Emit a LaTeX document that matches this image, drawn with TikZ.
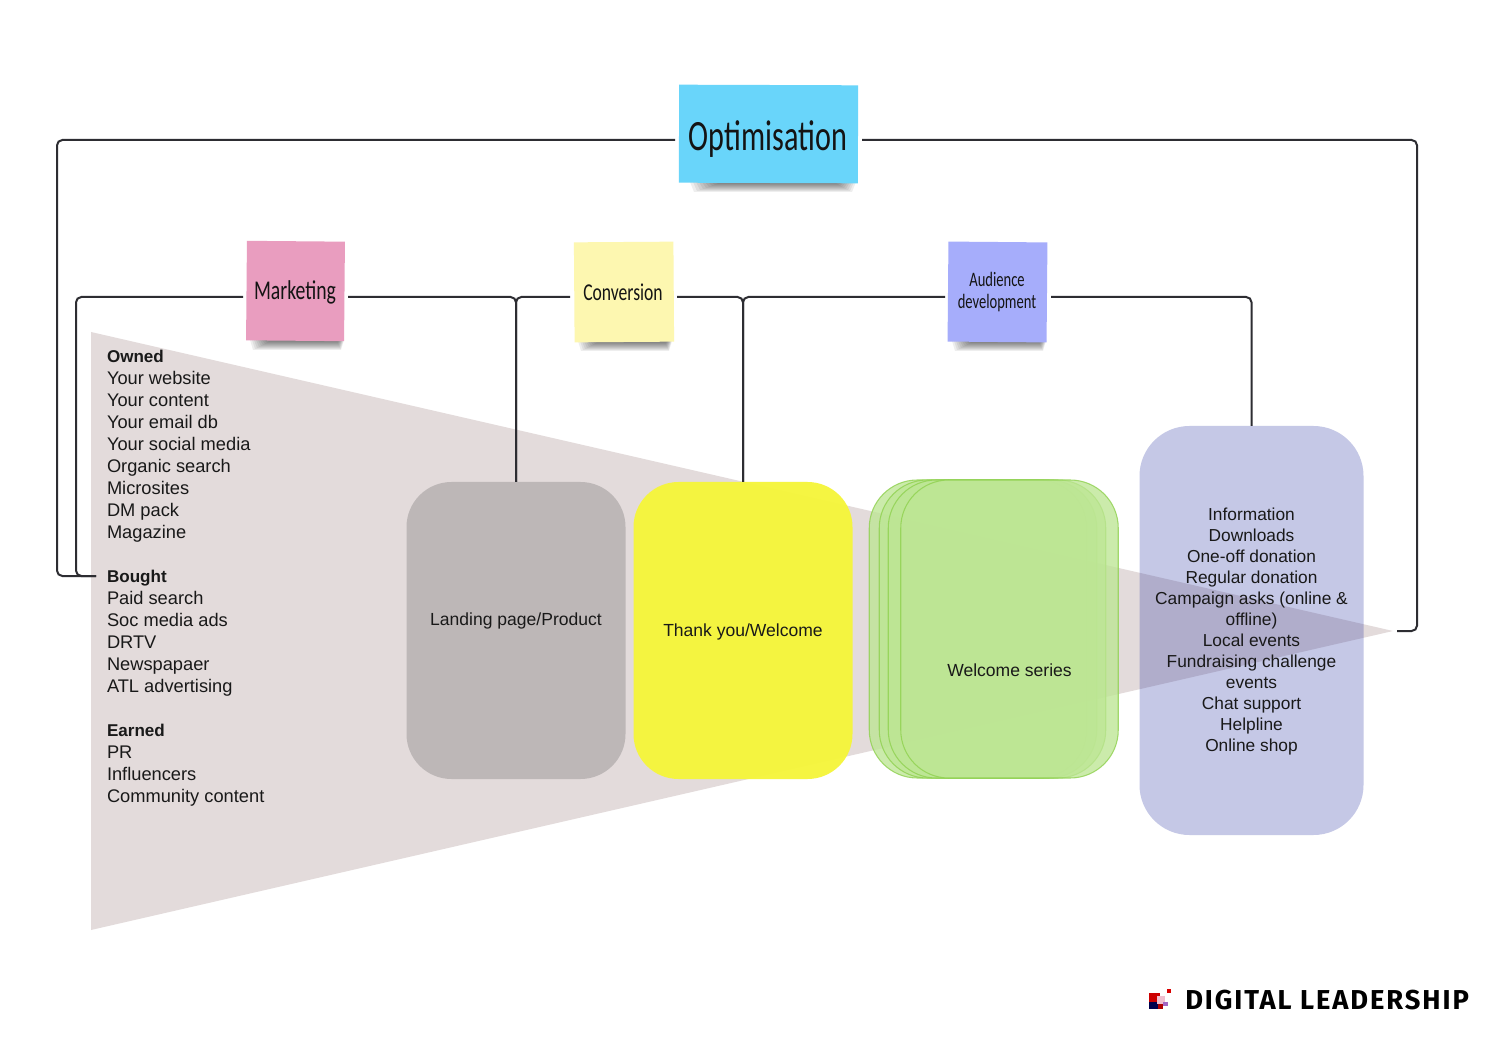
\documentclass[tikz,border=0pt]{standalone}
\usepackage{fontspec}
\setmainfont{Liberation Sans}
\newfontfamily\handfont{Carlito}
\newfontfamily\logofont[LetterSpace=7]{Fira Sans}
\usetikzlibrary{calc}
\definecolor{funnelc}{RGB}{227,219,219}
\definecolor{grayc}{RGB}{189,183,183}
\definecolor{yellowc}{RGB}{245,245,60}
\definecolor{greenf}{RGB}{189,230,148}
\definecolor{greenl}{RGB}{143,209,79}
\definecolor{purplef}{RGB}{24,36,156}
\definecolor{linec}{RGB}{45,45,50}
\definecolor{optc}{RGB}{105,213,250}
\definecolor{mktc}{RGB}{233,157,191}
\definecolor{convc}{RGB}{253,247,176}
\definecolor{audc}{RGB}{166,173,251}
\tikzset{
  x=0.75pt,y=-0.75pt,
  conn/.style={draw=linec,line width=1.5pt,rounded corners=4pt},
  txt/.style={inner sep=0pt,outer sep=0pt,font=\fontsize{13.15}{15.75}\selectfont,text=black!90},
  panel/.style={inner sep=0pt,outer sep=0pt,rounded corners=#1*0.75pt},
  greenlayer/.style={panel=48,fill=greenf,fill opacity=.78,draw=greenl,draw opacity=.8,line width=.8pt,minimum width=217.5pt*.75,minimum height=298pt*.75},
  sticky/.style={inner sep=0pt,outer sep=0pt,align=center,text=black!92,font=\handfont},
  shadowbit/.style={fill=black,opacity=.065,draw=none}
}
\begin{document}
\begin{tikzpicture}
\useasboundingbox (0,0) rectangle (1500,1055);
\fill[white] (0,0) rectangle (1500,1055);
% funnel
\fill[funnelc] (91,332) -- (1393,631) -- (91,930) -- cycle;
% free ends of connectors
\coordinate (optL) at (675,140);
\coordinate (optR) at (862,140);
\coordinate (mkL) at (243,297);
\coordinate (mkR) at (348,297);
\coordinate (cvL) at (570,297);
\coordinate (cvR) at (677,297);
\coordinate (auL) at (945,297);
\coordinate (auR) at (1051,297);
\coordinate (boughtA) at (96,576);
\coordinate (funnelTip) at (1397,631);
% panels placed first so connectors can name them
\node[panel=45,fill=grayc,minimum width=219pt*.75,minimum height=297pt*.75] (lp) at (516,630.5) {};
\node[panel=45,fill=yellowc,fill opacity=.97,minimum width=219pt*.75,minimum height=297pt*.75] (ty) at (743,630.5) {};
\node[greenlayer] (g1) at (978,629) {};
\node[greenlayer] (g2) at (988,629) {};
\node[greenlayer] (g3) at (997,629) {};
\node[greenlayer] (g4) at (1009.5,629) {};
\node[panel=50,fill=purplef,fill opacity=.25,minimum width=224pt*.75,minimum height=409pt*.75] (pb) at (1251.5,630.5) {};
% connectors
\draw[conn] (optL) -- (57,140) -- (57,576) -- (boughtA);
\draw[conn] (optR) -- (1417,140) -- (1417,631) -- (funnelTip);
\draw[conn] (mkL) -- (76,297) -- (76,576) -- (boughtA);
\draw[conn] (mkR) -| (lp.north);
\draw[conn] (cvL) -| (lp.north);
\draw[conn] (cvR) -| (ty.north);
\draw[conn] (auL) -| (ty.north);
\draw[conn] (auR) -| (pb.north);
% shadows
\foreach \i in {0,1,...,8}{
  \fill[shadowbit] (690+\i*3,182) -- (856-\i*2,182) -- (852-\i*2,183+9-\i) -- (694+\i*3,183+9-\i) -- cycle;
  \fill[shadowbit] (250+\i*2,340) -- (344-\i*.5,340) -- (341-\i*.5,341+9-\i) -- (253+\i*2,341+9-\i) -- cycle;
  \fill[shadowbit] (578+\i*2,341) -- (672-\i*.5,341) -- (669-\i*.5,342+9-\i) -- (581+\i*2,342+9-\i) -- cycle;
  \fill[shadowbit] (952+\i*2,341) -- (1046-\i*.5,341) -- (1043-\i*.5,342+9-\i) -- (955+\i*2,342+9-\i) -- cycle;
}
% sticky notes
\node[sticky,fill=optc,rotate=-0.2,minimum width=179pt*.75,minimum height=98pt*.75] (opt) at (768.5,134) {};
\node[sticky,fill=mktc,rotate=-0.5,minimum width=98pt*.75,minimum height=99.5pt*.75] (mk) at (295.5,291) {};
\node[sticky,fill=convc,rotate=0.4,minimum width=99.5pt*.75,minimum height=100pt*.75] (cv) at (624,292) {};
\node[sticky,fill=audc,rotate=-0.5,minimum width=99pt*.75,minimum height=100pt*.75] (au) at (997.5,292) {};
\node[sticky,font=\handfont\fontsize{30}{30}\selectfont] (optT) at (768,139) {\scalebox{.755}[1.08]{Optimisation}};
\node[sticky,font=\handfont\fontsize{18.5}{18.5}\selectfont] (mkT) at (295,292) {\scalebox{.80}[1.1]{Marketing}};
\node[sticky,font=\handfont\fontsize{16.5}{16.5}\selectfont] (cvT) at (623,292) {\scalebox{.80}[1.1]{Conversion}};
\node[sticky,font=\handfont\fontsize{14}{17}\selectfont] (auT) at (997,292) {\scalebox{.78}[1.1]{Audience}\\\scalebox{.78}[1.1]{development}};
% texts
\node[txt,anchor=north west,align=left,font=\fontsize{13.7}{16.5}\selectfont] (left) at (107,350.5) {%
\textbf{\fontsize{12.8}{16.5}\selectfont Owned}\\Your website\\Your content\\Your email db\\Your social media\\Organic search\\Microsites\\DM pack\\Magazine\\[16.5pt]%
\textbf{\fontsize{12.8}{16.5}\selectfont Bought}\\Paid search\\Soc media ads\\DRTV\\Newspapaer\\ATL advertising\\[16.5pt]%
\textbf{\fontsize{12.8}{16.5}\selectfont Earned}\\PR\\Influencers\\Community content};
\node[txt] (lpT) at (516,621) {Landing page/Product};
\node[txt] (tyT) at (743,632) {Thank you/Welcome};
\node[txt] (wsT) at (1009.5,670.5) {Welcome series};
\node[txt,align=center,font=\fontsize{13}{15.75}\selectfont] (pbT) at (1251.5,632) {Information\\Downloads\\One-off donation\\Regular donation\\Campaign asks (online \&\\offline)\\Local events\\Fundraising challenge\\events\\Chat support\\Helpline\\Online shop};
% logo
\fill[red!80!black] (1149,993) rectangle (1160,1002);
\fill[black!70!blue] (1149,1002) rectangle (1158,1009);
\fill[red!70!black] (1158,1002) rectangle (1163,1009);
\fill[purple!25] (1157,996) rectangle (1165,1004);
\fill[red!40!blue!60] (1163,1002) rectangle (1168,1006);
\fill[red!85!black] (1167,989) rectangle (1171,993);
\node[inner sep=0pt,anchor=west,font=\logofont\fontsize{20.5}{21}\selectfont\bfseries,text=black] (logo) at (1185,1000) {DIGITAL LEADERSHIP};
\end{tikzpicture}
\end{document}
